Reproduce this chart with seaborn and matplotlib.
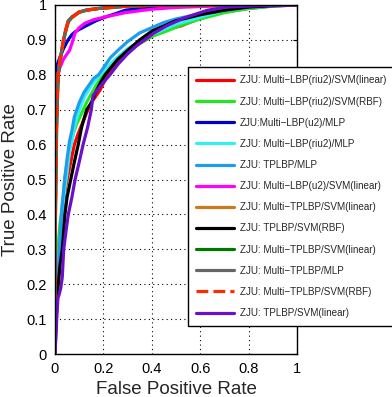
import matplotlib
matplotlib.use("Agg")
import matplotlib.pyplot as plt
import seaborn as sns
import pandas as pd

sns.set_theme(style="white")
plt.rcParams['font.family'] = ['Liberation Sans', 'DejaVu Sans']

labels = [
    "ZJU: Multi\u2212LBP(riu2)/SVM(linear)",
    "ZJU: Multi\u2212LBP(riu2)/SVM(RBF)",
    "ZJU:Multi\u2212LBP(u2)/MLP",
    "ZJU: Multi\u2212LBP(riu2)/MLP",
    "ZJU: TPLBP/MLP",
    "ZJU: Multi\u2212LBP(u2)/SVM(linear)",
    "ZJU: Multi\u2212TPLBP/SVM(linear)",
    "ZJU: TPLBP/SVM(RBF)",
    "ZJU: Multi\u2212TPLBP/SVM(linear)",
    "ZJU: Multi\u2212TPLBP/MLP",
    "ZJU: Multi\u2212TPLBP/SVM(RBF)",
    "ZJU: TPLBP/SVM(linear)",
]
colors = ["#ff0000", "#22e622", "#0000c8", "#33f0f0", "#1e9cf0", "#ff00ff",
          "#cc7a1e", "#000000", "#007800", "#666666", "#ff2a00", "#6a10cc"]
styles = ["-", "-", "-", "-", "-", "-", "-", "-", "-", "-", "--", "-"]

# FPR / TPR per curve
red_fpr = [0, 0.003, 0.008, 0.012, 0.02, 0.03, 0.04, 0.05, 0.065, 0.08, 0.095, 0.11, 0.13, 0.15, 0.17, 0.186, 0.21, 0.25, 0.3, 0.35, 0.4, 0.46, 0.52, 0.6, 0.7, 0.8, 0.9, 1.0]
red_tpr = [0, 0.12, 0.2, 0.25, 0.33, 0.4, 0.46, 0.5, 0.55, 0.6, 0.63, 0.656, 0.69, 0.72, 0.74, 0.756, 0.79, 0.83, 0.865, 0.89, 0.91, 0.93, 0.94, 0.962, 0.98, 0.99, 0.997, 1.0]

green_fpr = [0, 0.003, 0.007, 0.012, 0.02, 0.033, 0.04, 0.05, 0.06, 0.075, 0.09, 0.11, 0.13, 0.15, 0.17, 0.19, 0.22, 0.26, 0.3, 0.35, 0.4, 0.46, 0.52, 0.6, 0.7, 0.8, 0.9, 1.0]
green_tpr = [0, 0.13, 0.22, 0.3, 0.37, 0.44, 0.5, 0.55, 0.59, 0.63, 0.66, 0.69, 0.72, 0.745, 0.77, 0.79, 0.815, 0.845, 0.87, 0.89, 0.91, 0.925, 0.942, 0.96, 0.978, 0.99, 0.997, 1.0]

blue_fpr = [0, 0.0, 0.002, 0.004, 0.01, 0.02, 0.035, 0.054, 0.07, 0.083, 0.1, 0.136, 0.17, 0.21, 0.25, 0.29, 0.35, 0.45, 0.6, 0.8, 1.0]
blue_tpr = [0, 0.5, 0.7, 0.8, 0.83, 0.85, 0.875, 0.9, 0.915, 0.923, 0.93, 0.943, 0.955, 0.966, 0.975, 0.985, 0.99, 0.995, 0.998, 1.0, 1.0]

cyan_fpr = [0, 0.004, 0.01, 0.015, 0.02, 0.03, 0.04, 0.05, 0.06, 0.07, 0.08, 0.1, 0.12, 0.15, 0.18, 0.2, 0.25, 0.3, 0.35, 0.4, 0.45, 0.5, 0.55, 0.6, 0.65, 0.7, 0.8, 0.9, 1.0]
cyan_tpr = [0, 0.12, 0.2, 0.26, 0.32, 0.4, 0.47, 0.52, 0.58, 0.61, 0.65, 0.7, 0.735, 0.77, 0.795, 0.81, 0.845, 0.875, 0.895, 0.915, 0.93, 0.945, 0.955, 0.965, 0.975, 0.985, 0.993, 0.998, 1.0]

lblue_fpr = [0, 0.003, 0.008, 0.012, 0.018, 0.025, 0.03, 0.04, 0.05, 0.06, 0.07, 0.08, 0.1, 0.12, 0.14, 0.16, 0.18, 0.2, 0.23, 0.26, 0.3, 0.35, 0.4, 0.45, 0.5, 0.6, 0.7, 0.8, 0.9, 1.0]
lblue_tpr = [0, 0.1, 0.18, 0.22, 0.3, 0.38, 0.43, 0.5, 0.56, 0.61, 0.64, 0.68, 0.72, 0.75, 0.77, 0.79, 0.8, 0.82, 0.85, 0.87, 0.895, 0.92, 0.935, 0.95, 0.96, 0.975, 0.988, 0.995, 0.998, 1.0]

magenta_fpr = [0, 0.0, 0.003, 0.01, 0.02, 0.035, 0.05, 0.06, 0.07, 0.083, 0.1, 0.124, 0.16, 0.21, 0.29, 0.4, 0.5, 0.7, 1.0]
magenta_tpr = [0, 0.75, 0.78, 0.8, 0.82, 0.845, 0.86, 0.87, 0.89, 0.92, 0.935, 0.948, 0.958, 0.966, 0.978, 0.988, 0.993, 0.998, 1.0]

orange_fpr = [0, 0.0, 0.003, 0.006, 0.01, 0.013, 0.02, 0.028, 0.035, 0.045, 0.055, 0.07, 0.085, 0.1, 0.13, 0.18, 0.25, 0.3, 0.4, 0.5, 1.0]
orange_tpr = [0, 0.3, 0.5, 0.65, 0.75, 0.8, 0.84, 0.87, 0.9, 0.93, 0.955, 0.965, 0.972, 0.98, 0.985, 0.99, 0.994, 0.997, 0.999, 1.0, 1.0]

black_fpr = [0, 0.005, 0.01, 0.014, 0.02, 0.03, 0.041, 0.05, 0.065, 0.08, 0.096, 0.11, 0.131, 0.15, 0.172, 0.19, 0.207, 0.23, 0.26, 0.3, 0.35, 0.4, 0.45, 0.5, 0.6, 0.7, 0.8, 0.9, 1.0]
black_tpr = [0, 0.1, 0.17, 0.2, 0.25, 0.3, 0.4, 0.45, 0.5, 0.55, 0.6, 0.65, 0.7, 0.72, 0.756, 0.78, 0.8, 0.82, 0.845, 0.87, 0.9, 0.925, 0.94, 0.955, 0.972, 0.985, 0.994, 0.998, 1.0]

dgreen_fpr = [0, 0.0, 0.004, 0.007, 0.011, 0.014, 0.021, 0.029, 0.036, 0.046, 0.056, 0.07, 0.085, 0.1, 0.13, 0.18, 0.25, 0.3, 0.4, 0.5, 1.0]
dgreen_tpr = [0, 0.3, 0.5, 0.65, 0.75, 0.8, 0.84, 0.87, 0.9, 0.93, 0.953, 0.964, 0.972, 0.979, 0.985, 0.99, 0.994, 0.997, 0.999, 1.0, 1.0]

grey_fpr = [0, 0.0, 0.003, 0.006, 0.01, 0.013, 0.02, 0.028, 0.035, 0.045, 0.055, 0.07, 0.085, 0.1, 0.13, 0.18, 0.25, 0.3, 0.4, 0.5, 1.0]
grey_tpr = [0, 0.3, 0.5, 0.65, 0.75, 0.8, 0.84, 0.87, 0.9, 0.93, 0.955, 0.966, 0.973, 0.98, 0.986, 0.99, 0.994, 0.997, 0.999, 1.0, 1.0]

rdash_fpr = [0, 0.0, 0.003, 0.006, 0.01, 0.013, 0.02, 0.028, 0.035, 0.045, 0.055, 0.07, 0.085, 0.1, 0.13, 0.18, 0.25, 0.3, 0.4, 0.5, 1.0]
rdash_tpr = [0, 0.3, 0.5, 0.65, 0.75, 0.8, 0.84, 0.87, 0.9, 0.93, 0.955, 0.965, 0.972, 0.98, 0.985, 0.99, 0.994, 0.997, 0.999, 1.0, 1.0]

purple_fpr = [0, 0.007, 0.012, 0.017, 0.024, 0.03, 0.036, 0.045, 0.055, 0.07, 0.083, 0.1, 0.116, 0.135, 0.15, 0.157, 0.19, 0.227, 0.26, 0.3, 0.34, 0.37, 0.41, 0.46, 0.53, 0.63, 0.71, 0.8, 0.9, 1.0]
purple_tpr = [0, 0.1, 0.16, 0.17, 0.19, 0.22, 0.3, 0.35, 0.4, 0.45, 0.5, 0.55, 0.6, 0.65, 0.7, 0.74, 0.77, 0.8, 0.83, 0.86, 0.885, 0.9, 0.92, 0.94, 0.962, 0.985, 0.994, 0.997, 0.999, 1.0]

series = [(red_fpr, red_tpr), (green_fpr, green_tpr), (blue_fpr, blue_tpr),
          (cyan_fpr, cyan_tpr), (lblue_fpr, lblue_tpr), (magenta_fpr, magenta_tpr),
          (orange_fpr, orange_tpr), (black_fpr, black_tpr), (dgreen_fpr, dgreen_tpr),
          (grey_fpr, grey_tpr), (rdash_fpr, rdash_tpr), (purple_fpr, purple_tpr)]

x_ticks = [0, 0.2, 0.4, 0.6, 0.8, 1]
x_tick_labels = ["0", "0.2", "0.4", "0.6", "0.8", "1"]
y_ticks = [0, 0.1, 0.2, 0.3, 0.4, 0.5, 0.6, 0.7, 0.8, 0.9, 1]
y_tick_labels = ["0", "0.1", "0.2", "0.3", "0.4", "0.5", "0.6", "0.7", "0.8", "0.9", "1"]

fig = plt.figure(figsize=(3.92, 3.97), dpi=100)
ax = fig.add_axes([55/392, 43/397, 242/392, 349/397])

handles = []
for (fx, ty), lab, c, ls in zip(series, labels, colors, styles):
    df = pd.DataFrame({"FPR": fx, "TPR": ty})
    sns.lineplot(data=df, x="FPR", y="TPR", ax=ax, color=c, linestyle=ls,
                 linewidth=2.3, sort=False, estimator=None, label=lab, legend=False)
    handles.append(ax.lines[-1])

ax.set_xlim(0, 1)
ax.set_ylim(0, 1)
ax.set_xticks(x_ticks)
ax.set_xticklabels(x_tick_labels)
ax.set_yticks(y_ticks)
ax.set_yticklabels(y_tick_labels)
ax.tick_params(direction="in", length=3, width=0.8, labelsize=10.5, colors="black",
               top=True, right=True, pad=6)
ax.grid(True, linestyle=(0, (1, 3)), color="black", linewidth=0.8)
for s in ax.spines.values():
    s.set_color("black")
    s.set_linewidth(1.0)
ax.set_xlabel("False Positive Rate", fontsize=13.5, labelpad=3)
ax.set_ylabel("True Positive Rate", fontsize=13.5, labelpad=5)

leg = fig.legend(handles=handles, labels=labels, loc="upper left",
                 bbox_to_anchor=(188/392, 1 - 67/397), bbox_transform=fig.transFigure,
                 fontsize=7.1, frameon=True, fancybox=False, framealpha=1,
                 edgecolor="black", handlelength=3.8, handletextpad=0.6,
                 labelspacing=1.13, borderpad=0.85, borderaxespad=0)
leg.get_frame().set_linewidth(1.0)

fig.savefig("out.png", dpi=100)
